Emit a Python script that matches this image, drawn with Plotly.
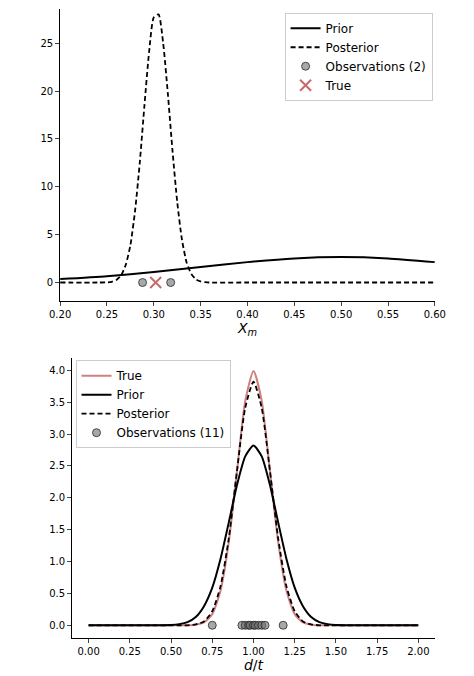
import plotly.graph_objects as go

# Top panel data
top_prior_x = [0.20,0.25,0.30,0.35,0.40,0.45,0.50,0.55,0.60]
top_prior_y = [0.36,0.66,1.09,1.61,2.13,2.52,2.66,2.52,2.13]
top_post_x = [0.20,0.24,0.25,0.255,0.26,0.265,0.27,0.275,0.28,0.285,0.29,0.295,0.30,0.305,0.31,0.315,0.32,0.325,0.33,0.335,0.34,0.345,0.35,0.355,0.36,0.40,0.60]
top_post_y = [0,0,0.01,0.07,0.27,0.74,1.83,3.9,7.5,12.5,18.5,24.1,27.7,28.0,25.0,19.7,13.7,8.4,4.5,2.1,0.9,0.33,0.11,0.03,0,0,0]
top_obs_x = [0.288,0.318]
top_obs_y = [0,0]
top_true_x = [0.302]
top_true_y = [0]

# Bottom panel data
bot_x = [0.0,0.4,0.5,0.55,0.6,0.65,0.7,0.75,0.8,0.85,0.9,0.95,1.0,1.05,1.1,1.15,1.2,1.25,1.3,1.35,1.4,1.45,1.5,1.6,2.0]
bot_true = [0,0,0,0,0.0003,0.009,0.044,0.175,0.54,1.30,2.42,3.52,3.99,3.52,2.42,1.30,0.54,0.175,0.044,0.009,0.0003,0,0,0,0]
bot_prior = [0,0.001,0.005,0.018,0.05,0.13,0.30,0.59,1.04,1.61,2.20,2.65,2.82,2.65,2.20,1.61,1.04,0.59,0.30,0.13,0.05,0.018,0.005,0.001,0]
bot_post = [0,0,0,0,0,0.014,0.06,0.22,0.61,1.36,2.42,3.41,3.82,3.41,2.42,1.36,0.61,0.22,0.06,0.014,0,0,0,0,0]
bot_obs_x = [0.75,0.93,0.95,0.97,0.98,1.00,1.01,1.03,1.05,1.07,1.18]
bot_obs_y = [0]*11

fig = go.Figure()
line = dict(shape="spline", smoothing=0.6)
dash = "5px,3px"
obs_marker = dict(size=8, color="rgba(110,110,110,0.6)", line=dict(color="rgba(40,40,40,0.8)", width=1))

fig.add_trace(go.Scatter(x=top_prior_x, y=top_prior_y, mode="lines", name="Prior", line=dict(color="black", width=2, **line), legend="legend"))
fig.add_trace(go.Scatter(x=top_post_x, y=top_post_y, mode="lines", name="Posterior", line=dict(color="black", width=1.8, dash=dash, **line), legend="legend"))
fig.add_trace(go.Scatter(x=top_obs_x, y=top_obs_y, mode="markers", name="Observations (2)", marker=obs_marker, legend="legend"))
fig.add_trace(go.Scatter(x=top_true_x, y=top_true_y, mode="markers", name="True", marker=dict(symbol="x-thin", size=11, line=dict(color="#c86b6b", width=2)), legend="legend"))

fig.add_trace(go.Scatter(x=bot_x, y=bot_true, mode="lines", name="True", line=dict(color="#d08080", width=2, **line), xaxis="x2", yaxis="y2", legend="legend2"))
fig.add_trace(go.Scatter(x=bot_x, y=bot_prior, mode="lines", name="Prior", line=dict(color="black", width=2, **line), xaxis="x2", yaxis="y2", legend="legend2"))
fig.add_trace(go.Scatter(x=bot_x, y=bot_post, mode="lines", name="Posterior", line=dict(color="black", width=1.8, dash=dash, **line), xaxis="x2", yaxis="y2", legend="legend2"))
fig.add_trace(go.Scatter(x=bot_obs_x, y=bot_obs_y, mode="markers", name="Observations (11)", marker=obs_marker, xaxis="x2", yaxis="y2", legend="legend2"))

ax = dict(showline=True, linecolor="black", linewidth=1, ticks="outside", ticklen=4, showgrid=False, zeroline=False, tickfont=dict(size=10))
legbox = dict(bgcolor="white", bordercolor="#cccccc", borderwidth=1, font=dict(size=12), tracegroupgap=0)
fig.update_layout(
    width=474, height=676, margin=dict(l=0, r=0, t=0, b=0),
    plot_bgcolor="white", paper_bgcolor="white",
    font=dict(family="DejaVu Sans", color="black"),
    xaxis=dict(domain=[0.091, 0.92], range=[0.2, 0.6], tickvals=[0.2,0.25,0.3,0.35,0.4,0.45,0.5,0.55,0.6], ticktext=["0.20","0.25","0.30","0.35","0.40","0.45","0.50","0.55","0.60"], anchor="y",
               title=dict(text="<i>X</i><sub><i>m</i></sub>", font=dict(size=14), standoff=0), **ax),
    yaxis=dict(domain=[0.567, 0.999], range=[-1.9, 28.6], tickvals=[0,5,10,15,20,25], anchor="x", **ax),
    xaxis2=dict(domain=[0.1175, 0.92], range=[-0.1, 2.1], tickvals=[0,0.25,0.5,0.75,1,1.25,1.5,1.75,2], ticktext=["0.00","0.25","0.50","0.75","1.00","1.25","1.50","1.75","2.00"], anchor="y2",
                title=dict(text="<i>d</i>/<i>t</i>", font=dict(size=14), standoff=0), **ax),
    yaxis2=dict(domain=[0.068, 0.482], range=[-0.2, 4.19], tickvals=[0,0.5,1,1.5,2,2.5,3,3.5,4], ticktext=["0.0","0.5","1.0","1.5","2.0","2.5","3.0","3.5","4.0"], anchor="x2", **ax),
    legend=dict(x=0.915, y=0.993, xanchor="right", yanchor="top", **legbox),
    legend2=dict(x=0.125, y=0.479, xanchor="left", yanchor="top", **legbox),
)
fig.write_html("out.html")
